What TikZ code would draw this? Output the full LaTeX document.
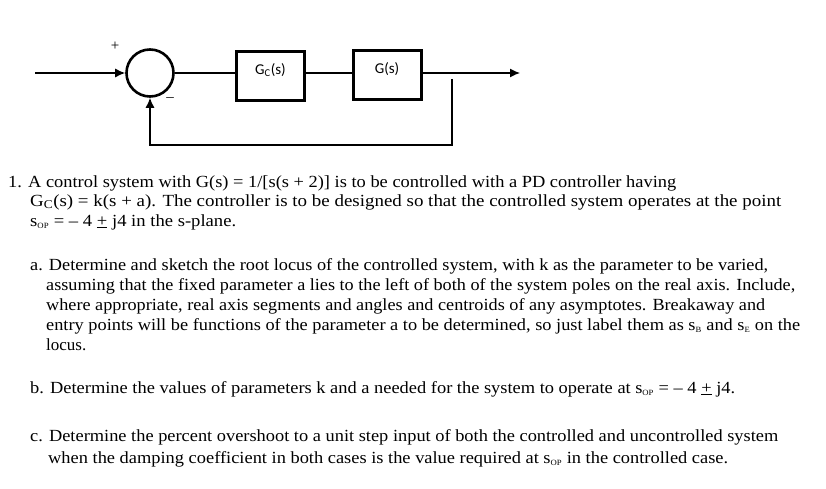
\documentclass[tikz,border=0pt]{standalone}
\usepackage{fontspec}
\setmainfont{Liberation Serif}
\newfontfamily\blockfont{Carlito}
\usepackage{graphicx}
\usetikzlibrary{arrows.meta}
\newcommand\fitw[2]{\resizebox{#1pt}{\height}{#2}}
\newcommand\sop{s\textsubscript{\footnotesize OP}}
\newcommand\sbe[1]{s\textsubscript{\footnotesize #1}}
\begin{document}
\begin{tikzpicture}[x=1pt,y=-1pt,
  blk/.style={draw,line width=3pt,minimum width=68pt,minimum height=49pt,inner sep=0pt},
  blab/.style={anchor=center,font=\blockfont\fontsize{15}{17}\selectfont},
  sumc/.style={draw,line width=2.6pt,circle,minimum size=47pt,inner sep=0pt},
  ln/.style={line width=1.3pt},
  arr/.style={-{Latex[length=10pt,width=9pt]}},
  txt/.style={anchor=base west,inner sep=0pt,font=\fontsize{17}{20}\selectfont}]
\useasboundingbox (0,0) rectangle (826,489);
\node[sumc] (sum) at (150,73) {};
\node[blk] (gc) at (270.5,76) {};
\node[blab] (gcl) at (270.5,70) {G\textsubscript{C}(s)};
\node[blk] (g) at (387,75.5) {};
\node[blab] (gl) at (387,69) {G(s)};
\coordinate (in) at (35,73);
\coordinate (out) at (520,73);
\coordinate (fb0) at (452,79);
\coordinate (fb1) at (452,145);
\coordinate (fb2) at (150,145);
\draw[ln,arr] (in) -- (sum.west);
\draw[ln] (sum.east) -- (gc.west|-sum.east);
\draw[ln] (gc.east|-sum.east) -- (g.west|-sum.east);
\draw[ln,arr] (g.east|-sum.east) -- (out);
\draw[ln,arr] (fb0) -- (fb1) -- (fb2) -- (sum.south);
\node[font=\fontsize{15}{15}\selectfont] (plus) at (115,46) {+};
\node[font=\fontsize{15}{15}\selectfont] (minus) at (170,100) {\textendash};

\node[txt] (l1) at (8,187) {\fitw{668}{1. A control system with G(s) = 1/[s(s + 2)] is to be controlled with a PD controller having}};
\node[txt] (l2) at (30,206) {\fitw{751}{G\textsubscript{C}(s) = k(s + a). The controller is to be designed so that the controlled system operates at the point}};
\node[txt] (l3) at (30,226) {\fitw{206}{\sop{} = -- 4 \underline{+} j4 in the s-plane.}};

\node[txt] (a1) at (30,270) {\fitw{738}{a. Determine and sketch the root locus of the controlled system, with k as the parameter to be varied,}};
\node[txt] (a2) at (46,290) {\fitw{749}{assuming that the fixed parameter a lies to the left of both of the system poles on the real axis. Include,}};
\node[txt] (a3) at (46,310) {\fitw{719}{where appropriate, real axis segments and angles and centroids of any asymptotes. Breakaway and}};
\node[txt] (a4) at (46,330) {\fitw{754}{entry points will be functions of the parameter a to be determined, so just label them as \sbe{B} and \sbe{E} on the}};
\node[txt] (a5) at (46,350) {locus.};

\node[txt] (b1) at (30,393) {\fitw{705}{b. Determine the values of parameters k and a needed for the system to operate at \sop{} = -- 4 \underline{+} j4.}};
\node[txt] (c1) at (30,441) {\fitw{748}{c. Determine the percent overshoot to a unit step input of both the controlled and uncontrolled system}};
\node[txt] (c2) at (48,463) {\fitw{680}{when the damping coefficient in both cases is the value required at \sop{} in the controlled case.}};
\end{tikzpicture}
\end{document}
